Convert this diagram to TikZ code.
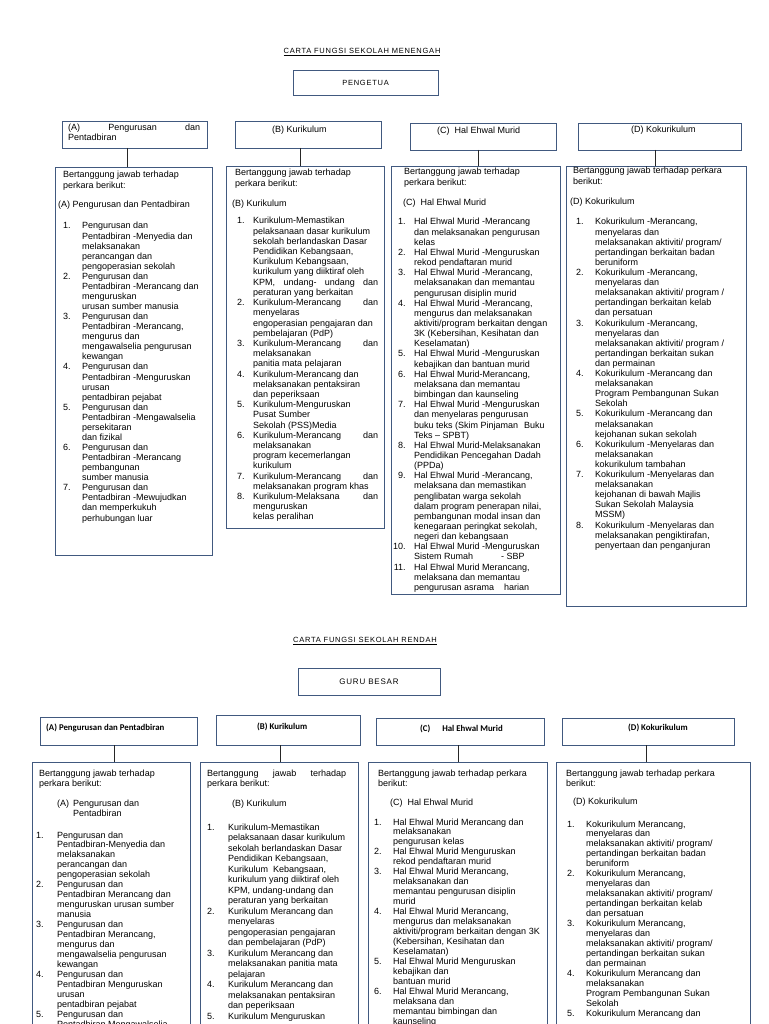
\documentclass[tikz,border=0pt]{standalone}
\usepackage{fontspec}
\setmainfont{Liberation Sans}
\newfontfamily\titlefont{Liberation Sans}[LetterSpace=10]
\newfontfamily\calfont{Carlito}
\definecolor{boxblue}{HTML}{41597F}
\newlength\numw
\newcommand\NI[2]{\noindent\makebox[\numw][l]{\makebox[9pt][r]{#1}}#2\par}
\newcommand\CL[1]{\noindent\hspace*{\numw}#1\par}
\newcommand\bx[5]{\node[box, minimum width=#4pt-#2pt, minimum height=#5pt-#3pt] (#1) at (#2,#3) {};}
\newcommand\tb[6]{\node[anchor=base west, inner sep=0pt] (#1) at (#2,#3) {\begin{minipage}[t]{300pt}\setlength\numw{#4}\fontsize{9}{#5}\selectfont\lineskiplimit=-50pt\relax #6\end{minipage}};}
\tikzset{
  box/.style={draw=boxblue, line width=0.9pt, inner sep=0pt, outer sep=0pt, anchor=north west},
  conn/.style={draw=black!85, line width=0.9pt},
  ttl/.style={inner sep=0pt, font=\titlefont\fontsize{7.5}{9}\selectfont},
  hdr/.style={anchor=base west, inner sep=0pt, font=\fontsize{9}{10}\selectfont},
  bhdr/.style={anchor=base west, inner sep=0pt, font=\calfont\bfseries\fontsize{8.8}{10}\selectfont},
}
\begin{document}
\begin{tikzpicture}[x=1pt,y=-1pt]
\useasboundingbox (0,0) rectangle (768,1024);
\fill[white] (0,0) rectangle (768,1024);
\clip (0,0) rectangle (768,1024);

% ================= TOP: SEKOLAH MENENGAH =================
\node[ttl] (title1) at (362,52) {\underline{CARTA FUNGSI SEKOLAH MENENGAH}};
\bx{pengetua}{293}{70}{438}{95}
\node[ttl] (pengetuaT) at (pengetua.center) {PENGETUA};

\bx{hA}{62}{121}{207}{148}
\bx{hB}{235}{121}{381}{148}
\bx{hC}{410}{123}{556}{150}
\bx{hD}{578}{123}{741}{150}
\tb{hAT}{68}{131}{0pt}{10pt}{\makebox[132pt][s]{(A) Pengurusan dan}\par Pentadbiran\par}
\node[hdr] (hBT) at (272,133) {(B) Kurikulum};
\node[hdr] (hCT) at (437,134) {(C)\ \ Hal Ehwal Murid};
\node[hdr] (hDT) at (631,133) {(D) Kokurikulum};

\bx{dA}{55}{167}{212}{555}
\bx{dB}{226}{166}{384}{528}
\bx{dC}{391}{166}{560}{594}
\bx{dD}{566}{166}{746}{606}

\coordinate (cA) at (127,0);
\coordinate (cB) at (300,0);
\coordinate (cC) at (478,0);
\coordinate (cD) at (655,0);
\draw[conn] (hA.south -| cA) -- (dA.north -| cA);
\draw[conn] (hB.south -| cB) -- (dB.north -| cB);
\draw[conn] (hC.south -| cC) -- (dC.north -| cC);
\draw[conn] (hD.south -| cD) -- (dD.north -| cD);

% --- A ---
\tb{iA}{63}{178}{0pt}{10.1pt}{Bertanggung jawab terhadap\par perkara berikut:\par}
\tb{gA}{58}{208}{0pt}{10.1pt}{(A) Pengurusan dan Pentadbiran\par}
\tb{lA}{61.5}{229}{20.5pt}{10.07pt}{%
\NI{1.}{Pengurusan dan}
\CL{Pentadbiran -Menyedia dan}
\CL{melaksanakan}
\CL{perancangan dan}
\CL{pengoperasian sekolah}
\NI{2.}{Pengurusan dan}
\CL{Pentadbiran -Merancang dan}
\CL{menguruskan}
\CL{urusan sumber manusia}
\NI{3.}{Pengurusan dan}
\CL{Pentadbiran -Merancang,}
\CL{mengurus dan}
\CL{mengawalselia pengurusan}
\CL{kewangan}
\NI{4.}{Pengurusan dan}
\CL{Pentadbiran -Menguruskan}
\CL{urusan}
\CL{pentadbiran pejabat}
\NI{5.}{Pengurusan dan}
\CL{Pentadbiran -Mengawalselia}
\CL{persekitaran}
\CL{dan fizikal}
\NI{6.}{Pengurusan dan}
\CL{Pentadbiran -Merancang}
\CL{pembangunan}
\CL{sumber manusia}
\NI{7.}{Pengurusan dan}
\CL{Pentadbiran -Mewujudkan}
\CL{dan memperkukuh}
\CL{perhubungan luar}}

% --- B ---
\tb{iB}{235}{176}{0pt}{10.2pt}{Bertanggung jawab terhadap\par perkara berikut:\par}
\tb{gB}{232}{207}{0pt}{10.2pt}{(B) Kurikulum\par}
\tb{lB}{235.5}{224}{17.5pt}{10.2pt}{%
\NI{1.}{Kurikulum-Memastikan}
\CL{pelaksanaan dasar kurikulum}
\CL{sekolah berlandaskan Dasar}
\CL{Pendidikan Kebangsaan,}
\CL{Kurikulum Kebangsaan,}
\CL{kurikulum yang diiktiraf oleh}
\CL{\makebox[125pt][s]{KPM, undang- undang dan}}
\CL{peraturan yang berkaitan}
\NI{2.}{\makebox[125pt][s]{Kurikulum-Merancang dan}}
\CL{menyelaras}
\CL{engoperasian pengajaran dan}
\CL{pembelajaran (PdP)}
\NI{3.}{\makebox[125pt][s]{Kurikulum-Merancang dan}}
\CL{melaksanakan}
\CL{panitia mata pelajaran}
\NI{4.}{Kurikulum-Merancang dan}
\CL{melaksanakan pentaksiran}
\CL{dan peperiksaan}
\NI{5.}{Kurikulum-Menguruskan}
\CL{Pusat Sumber}
\CL{Sekolah (PSS)Media}
\NI{6.}{\makebox[125pt][s]{Kurikulum-Merancang dan}}
\CL{melaksanakan}
\CL{program kecemerlangan}
\CL{kurikulum}
\NI{7.}{\makebox[125pt][s]{Kurikulum-Merancang dan}}
\CL{melaksanakan program khas}
\NI{8.}{\makebox[125pt][s]{Kurikulum-Melaksana dan}}
\CL{menguruskan}
\CL{kelas peralihan}}

% --- C ---
\tb{iC}{404}{175}{0pt}{10.15pt}{Bertanggung jawab terhadap\par perkara berikut:\par}
\tb{gC}{403}{206}{0pt}{10.15pt}{(C)\ \ Hal Ehwal Murid\par}
\begin{scope}
\clip (dC.north west) rectangle (dC.south east);
\tb{lC}{396.5}{225}{17.5pt}{10.15pt}{%
\NI{1.}{Hal Ehwal Murid -Merancang}
\CL{dan melaksanakan pengurusan}
\CL{kelas}
\NI{2.}{Hal Ehwal Murid -Menguruskan}
\CL{rekod pendaftaran murid}
\NI{3.}{Hal Ehwal Murid -Merancang,}
\CL{melaksanakan dan memantau}
\CL{pengurusan disiplin murid}
\NI{4.}{Hal Ehwal Murid -Merancang,}
\CL{mengurus dan melaksanakan}
\CL{aktiviti/program berkaitan dengan}
\CL{3K (Kebersihan, Kesihatan dan}
\CL{Keselamatan)}
\NI{5.}{Hal Ehwal Murid -Menguruskan}
\CL{kebajikan dan bantuan murid}
\NI{6.}{Hal Ehwal Murid-Merancang,}
\CL{melaksana dan memantau}
\CL{bimbingan dan kaunseling}
\NI{7.}{Hal Ehwal Murid -Menguruskan}
\CL{dan menyelaras pengurusan}
\CL{buku teks (Skim Pinjaman\hspace{6pt}Buku}
\CL{Teks – SPBT)}
\NI{8.}{Hal Ehwal Murid-Melaksanakan}
\CL{Pendidikan Pencegahan Dadah}
\CL{(PPDa)}
\NI{9.}{Hal Ehwal Murid -Merancang,}
\CL{melaksana dan memastikan}
\CL{penglibatan warga sekolah}
\CL{dalam program penerapan nilai,}
\CL{pembangunan modal insan dan}
\CL{kenegaraan peringkat sekolah,}
\CL{negeri dan kebangsaan}
\NI{10.}{Hal Ehwal Murid -Menguruskan}
\CL{Sistem Rumah\hspace{28pt}- SBP}
\NI{11.}{Hal Ehwal Murid Merancang,}
\CL{melaksana dan memantau}
\CL{pengurusan asrama\hspace{10pt}harian}}
\end{scope}

% --- D ---
\tb{iD}{573}{174}{0pt}{10.1pt}{Bertanggung jawab terhadap perkara\par berikut:\par}
\tb{gD}{570}{205}{0pt}{10.1pt}{(D) Kokurikulum\par}
\tb{lD}{574.5}{225}{20.5pt}{10.1pt}{%
\NI{1.}{Kokurikulum -Merancang,}
\CL{menyelaras dan}
\CL{melaksanakan aktiviti/ program/}
\CL{pertandingan berkaitan badan}
\CL{beruniform}
\NI{2.}{Kokurikulum -Merancang,}
\CL{menyelaras dan}
\CL{melaksanakan aktiviti/ program /}
\CL{pertandingan berkaitan kelab}
\CL{dan persatuan}
\NI{3.}{Kokurikulum -Merancang,}
\CL{menyelaras dan}
\CL{melaksanakan aktiviti/ program /}
\CL{pertandingan berkaitan sukan}
\CL{dan permainan}
\NI{4.}{Kokurikulum -Merancang dan}
\CL{melaksanakan}
\CL{Program Pembangunan Sukan}
\CL{Sekolah}
\NI{5.}{Kokurikulum -Merancang dan}
\CL{melaksanakan}
\CL{kejohanan sukan sekolah}
\NI{6.}{Kokurikulum -Menyelaras dan}
\CL{melaksanakan}
\CL{kokurikulum tambahan}
\NI{7.}{Kokurikulum -Menyelaras dan}
\CL{melaksanakan}
\CL{kejohanan di bawah Majlis}
\CL{Sukan Sekolah Malaysia}
\CL{MSSM)}
\NI{8.}{Kokurikulum -Menyelaras dan}
\CL{melaksanakan pengiktirafan,}
\CL{penyertaan dan penganjuran}}

% ================= BOTTOM: SEKOLAH RENDAH =================
\node[ttl] (title2) at (365,641) {\underline{CARTA FUNGSI SEKOLAH RENDAH}};
\bx{gurubesar}{298}{668}{440}{695}
\node[ttl, font=\titlefont\fontsize{8}{9}\selectfont] (gurubesarT) at (gurubesar.center) {GURU BESAR};

\bx{bhA}{40}{717}{197}{745}
\bx{bhB}{216}{715}{360}{745}
\bx{bhC}{376}{718}{544}{745}
\bx{bhD}{562}{718}{734}{745}
\node[bhdr] (bhAT) at (46,730) {(A) Pengurusan dan Pentadbiran};
\node[bhdr] (bhBT) at (257,729) {(B) Kurikulum};
\node[bhdr] (bhCT) at (420,731) {(C)\hspace{12pt}Hal Ehwal Murid};
\node[bhdr] (bhDT) at (628,730) {(D) Kokurikulum};

\bx{bdA}{32}{762}{190}{1040}
\bx{bdB}{200}{762}{358}{1040}
\bx{bdC}{368}{762}{547}{1040}
\bx{bdD}{556}{762}{750}{1040}

\coordinate (bcA) at (114,0);
\coordinate (bcB) at (280,0);
\coordinate (bcC) at (458,0);
\coordinate (bcD) at (646,0);
\draw[conn] (bhA.south -| bcA) -- (bdA.north -| bcA);
\draw[conn] (bhB.south -| bcB) -- (bdB.north -| bcB);
\draw[conn] (bhC.south -| bcC) -- (bdC.north -| bcC);
\draw[conn] (bhD.south -| bcD) -- (bdD.north -| bcD);

% --- A ---
\tb{biA}{39}{776}{0pt}{10.5pt}{Bertanggung jawab terhadap\par perkara berikut:\par}
\tb{bgA1}{57}{806}{0pt}{10.8pt}{(A)\par}
\tb{bgA2}{73}{806}{0pt}{10.8pt}{Pengurusan dan\par Pentadbiran\par}
\tb{blA}{34.5}{838}{22.5pt}{9.95pt}{%
\NI{1.}{Pengurusan dan}
\CL{Pentadbiran-Menyedia dan}
\CL{melaksanakan}
\CL{perancangan dan}
\CL{pengoperasian sekolah}
\NI{2.}{Pengurusan dan}
\CL{Pentadbiran Merancang dan}
\CL{menguruskan urusan sumber}
\CL{manusia}
\NI{3.}{Pengurusan dan}
\CL{Pentadbiran Merancang,}
\CL{mengurus dan}
\CL{mengawalselia pengurusan}
\CL{kewangan}
\NI{4.}{Pengurusan dan}
\CL{Pentadbiran Menguruskan}
\CL{urusan}
\CL{pentadbiran pejabat}
\NI{5.}{Pengurusan dan}
\CL{Pentadbiran Mengawalselia}}

% --- B ---
\tb{biB}{207}{776}{0pt}{10.5pt}{\makebox[139pt][s]{Bertanggung jawab terhadap}\par perkara berikut:\par}
\tb{bgB}{232}{806}{0pt}{10.5pt}{(B) Kurikulum\par}
\tb{blB}{205.5}{830}{22.5pt}{10.5pt}{%
\NI{1.}{Kurikulum-Memastikan}
\CL{pelaksanaan dasar kurikulum}
\CL{sekolah berlandaskan Dasar}
\CL{Pendidikan Kebangsaan,}
\CL{Kurikulum\ \ Kebangsaan,}
\CL{kurikulum yang diiktiraf oleh}
\CL{KPM, undang-undang dan}
\CL{peraturan yang berkaitan}
\NI{2.}{Kurikulum Merancang dan}
\CL{menyelaras}
\CL{pengoperasian pengajaran}
\CL{dan pembelajaran (PdP)}
\NI{3.}{Kurikulum Merancang dan}
\CL{melaksanakan panitia mata}
\CL{pelajaran}
\NI{4.}{Kurikulum Merancang dan}
\CL{melaksanakan pentaksiran}
\CL{dan peperiksaan}
\NI{5.}{Kurikulum Menguruskan}}

% --- C ---
\tb{biC}{378}{776}{0pt}{10.5pt}{Bertanggung jawab terhadap perkara\par berikut:\par}
\tb{bgC}{390}{805}{0pt}{10.5pt}{(C)\ \ Hal Ehwal Murid\par}
\tb{blC}{372.5}{825}{20.5pt}{9.95pt}{%
\NI{1.}{Hal Ehwal Murid Merancang dan}
\CL{melaksanakan}
\CL{pengurusan kelas}
\NI{2.}{Hal Ehwal Murid Menguruskan}
\CL{rekod pendaftaran murid}
\NI{3.}{Hal Ehwal Murid Merancang,}
\CL{melaksanakan dan}
\CL{memantau pengurusan disiplin}
\CL{murid}
\NI{4.}{Hal Ehwal Murid Merancang,}
\CL{mengurus dan melaksanakan}
\CL{aktiviti/program berkaitan dengan 3K}
\CL{(Kebersihan, Kesihatan dan}
\CL{Keselamatan)}
\NI{5.}{Hal Ehwal Murid Menguruskan}
\CL{kebajikan dan}
\CL{bantuan murid}
\NI{6.}{Hal Ehwal Murid Merancang,}
\CL{melaksana dan}
\CL{memantau bimbingan dan}
\CL{kaunseling}}

% --- D ---
\tb{biD}{566}{776}{0pt}{10.5pt}{Bertanggung jawab terhadap perkara\par berikut:\par}
\tb{bgD}{573}{804}{0pt}{10.5pt}{(D) Kokurikulum\par}
\tb{blD}{565.5}{827}{20.5pt}{9.95pt}{%
\NI{1.}{Kokurikulum Merancang,}
\CL{menyelaras dan}
\CL{melaksanakan aktiviti/ program/}
\CL{pertandingan berkaitan badan}
\CL{beruniform}
\NI{2.}{Kokurikulum Merancang,}
\CL{menyelaras dan}
\CL{melaksanakan aktiviti/ program/}
\CL{pertandingan berkaitan kelab}
\CL{dan persatuan}
\NI{3.}{Kokurikulum Merancang,}
\CL{menyelaras dan}
\CL{melaksanakan aktiviti/ program/}
\CL{pertandingan berkaitan sukan}
\CL{dan permainan}
\NI{4.}{Kokurikulum Merancang dan}
\CL{melaksanakan}
\CL{Program Pembangunan Sukan}
\CL{Sekolah}
\NI{5.}{Kokurikulum Merancang dan}}
\end{tikzpicture}
\end{document}
